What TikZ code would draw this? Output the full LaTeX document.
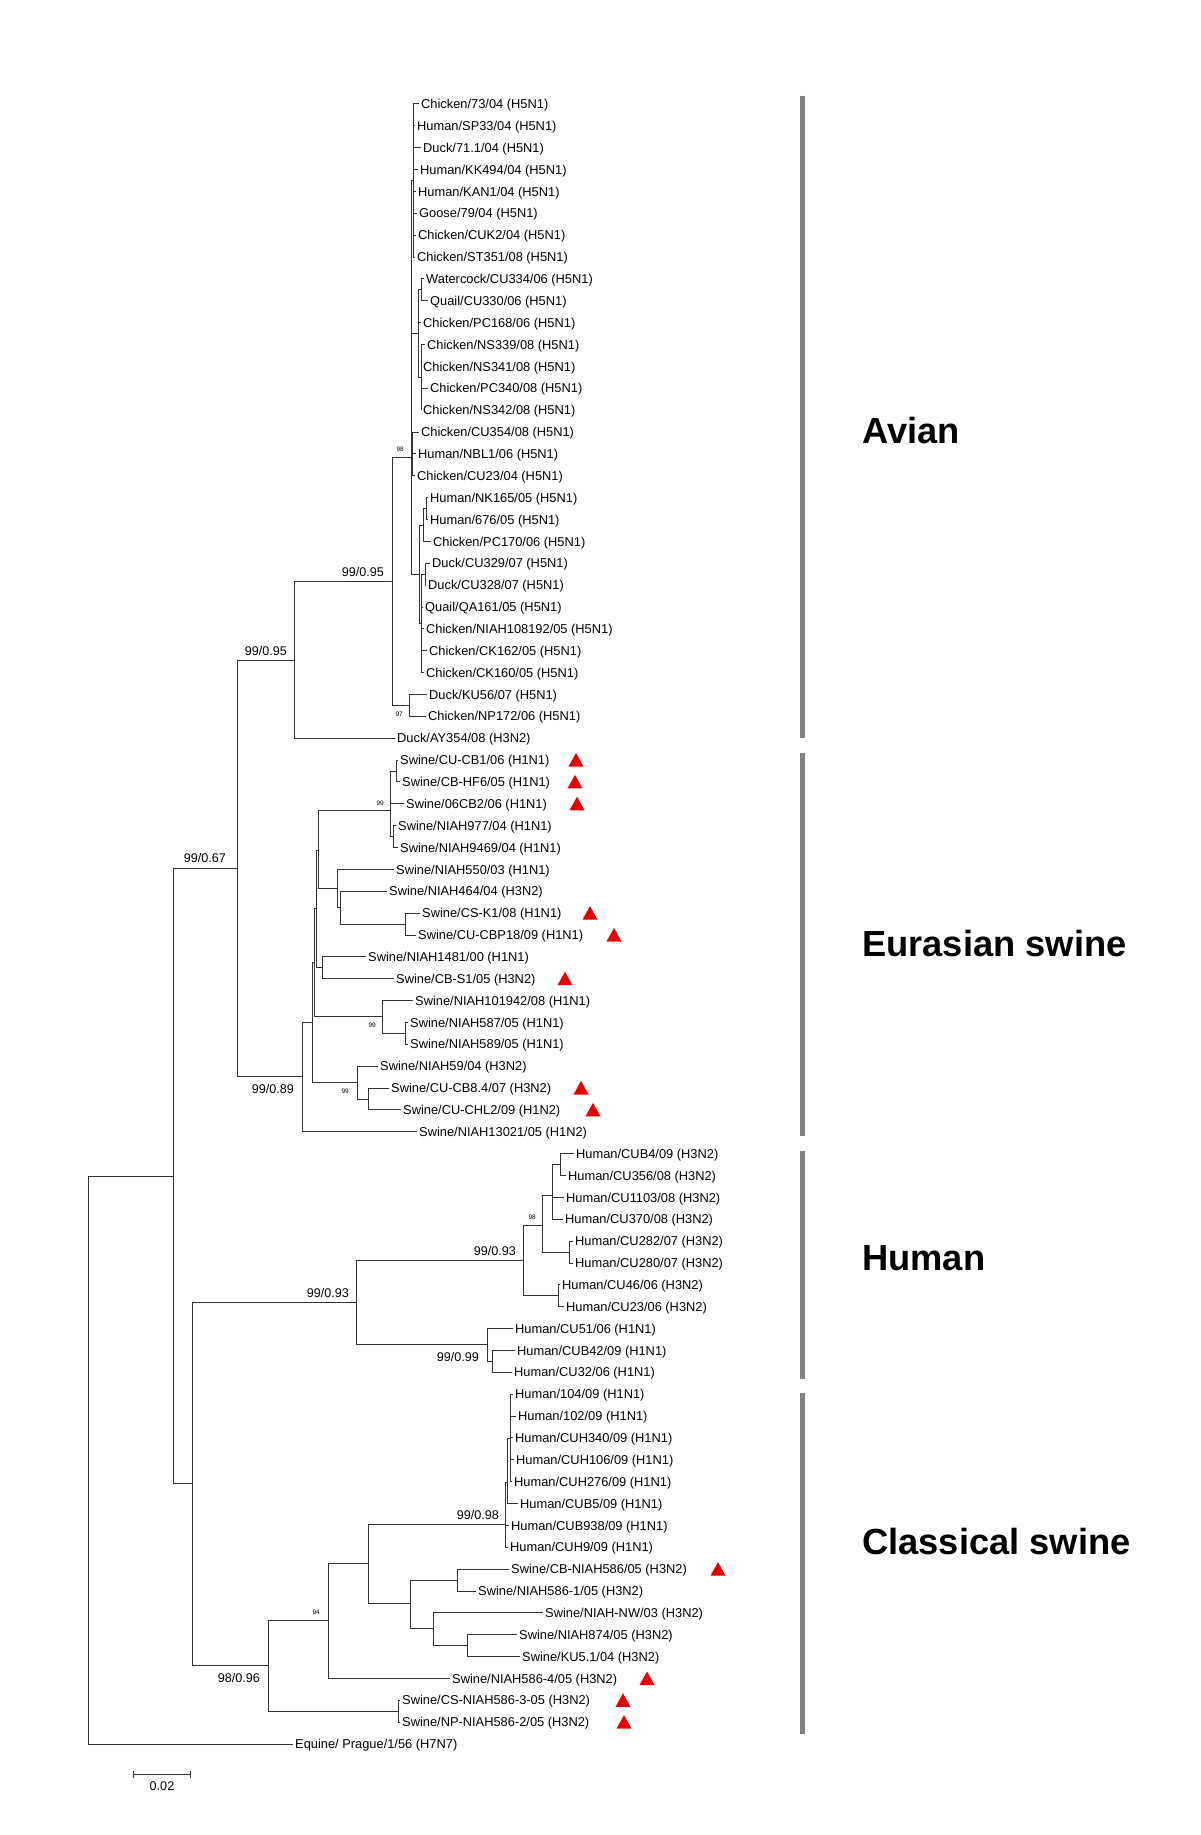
\documentclass[tikz,border=0pt]{standalone}
\usepackage{fontspec}
\setmainfont{Liberation Sans}
\definecolor{trired}{RGB}{232,0,0}
\begin{document}
\begin{tikzpicture}[x=1pt,y=-1pt,
  br/.style={line width=1pt, draw=black!80},
  leaf/.style={anchor=west, inner xsep=2pt, inner ysep=0pt, font=\fontsize{12.85}{14}\selectfont, text height=9.2pt, text depth=0pt},
  sup/.style={anchor=base east, inner sep=0pt, font=\fontsize{12.6}{14}\selectfont},
  ssup/.style={anchor=base east, inner sep=0pt, font=\fontsize{6.5}{7}\selectfont},
  clade/.style={anchor=base west, inner sep=0pt, font=\fontsize{36.3}{40}\selectfont\bfseries},
  cbar/.style={line width=5pt, draw=black!50},
  tri/.style={fill=trired}]
\fill[white] (0,0) rectangle (1200,1835);
\useasboundingbox (0,0) rectangle (1200,1835);

% ---------- leaves ----------
\foreach \n/\x/\y/\t in {
 L1/419/104.0/{Chicken/73/04 (H5N1)},
 L2/415/125.9/{Human/SP33/04 (H5N1)},
 L3/421/147.7/{Duck/71.1/04 (H5N1)},
 L4/418/169.6/{Human/KK494/04 (H5N1)},
 L5/416/191.5/{Human/KAN1/04 (H5N1)},
 L6/417/213.3/{Goose/79/04 (H5N1)},
 L7/416/235.2/{Chicken/CUK2/04 (H5N1)},
 L8/415/257.1/{Chicken/ST351/08 (H5N1)},
 L9/424/278.9/{Watercock/CU334/06 (H5N1)},
 L10/428/300.8/{Quail/CU330/06 (H5N1)},
 L11/421/322.7/{Chicken/PC168/06 (H5N1)},
 L12/425/344.5/{Chicken/NS339/08 (H5N1)},
 L13/421/366.4/{Chicken/NS341/08 (H5N1)},
 L14/428/388.3/{Chicken/PC340/08 (H5N1)},
 L15/421/410.2/{Chicken/NS342/08 (H5N1)},
 L16/419/432.0/{Chicken/CU354/08 (H5N1)},
 L17/416/453.9/{Human/NBL1/06 (H5N1)},
 L18/415/475.8/{Chicken/CU23/04 (H5N1)},
 L19/428/497.6/{Human/NK165/05 (H5N1)},
 L20/428/519.5/{Human/676/05 (H5N1)},
 L21/431/541.4/{Chicken/PC170/06 (H5N1)},
 L22/430/563.2/{Duck/CU329/07 (H5N1)},
 L23/426/585.1/{Duck/CU328/07 (H5N1)},
 L24/423/607.0/{Quail/QA161/05 (H5N1)},
 L25/424/628.8/{Chicken/NIAH108192/05 (H5N1)},
 L26/427/650.7/{Chicken/CK162/05 (H5N1)},
 L27/424/672.6/{Chicken/CK160/05 (H5N1)},
 L28/427/694.4/{Duck/KU56/07 (H5N1)},
 L29/426/716.3/{Chicken/NP172/06 (H5N1)},
 L30/395/738.2/{Duck/AY354/08 (H3N2)},
 L31/398/760.0/{Swine/CU-CB1/06 (H1N1)},
 L32/400/781.9/{Swine/CB-HF6/05 (H1N1)},
 L33/404/803.8/{Swine/06CB2/06 (H1N1)},
 L34/396/825.6/{Swine/NIAH977/04 (H1N1)},
 L35/398/847.5/{Swine/NIAH9469/04 (H1N1)},
 L36/394/869.4/{Swine/NIAH550/03 (H1N1)},
 L37/387/891.2/{Swine/NIAH464/04 (H3N2)},
 L38/420/913.1/{Swine/CS-K1/08 (H1N1)},
 L39/416/935.0/{Swine/CU-CBP18/09 (H1N1)},
 L40/366/956.8/{Swine/NIAH1481/00 (H1N1)},
 L41/394/978.7/{Swine/CB-S1/05 (H3N2)},
 L42/413/1000.6/{Swine/NIAH101942/08 (H1N1)},
 L43/408/1022.4/{Swine/NIAH587/05 (H1N1)},
 L44/408/1044.3/{Swine/NIAH589/05 (H1N1)},
 L45/378/1066.2/{Swine/NIAH59/04 (H3N2)},
 L46/389/1088.0/{Swine/CU-CB8.4/07 (H3N2)},
 L47/401/1109.9/{Swine/CU-CHL2/09 (H1N2)},
 L48/417/1131.8/{Swine/NIAH13021/05 (H1N2)},
 L49/574/1153.7/{Human/CUB4/09 (H3N2)},
 L50/566/1175.5/{Human/CU356/08 (H3N2)},
 L51/564/1197.4/{Human/CU1103/08 (H3N2)},
 L52/563/1219.3/{Human/CU370/08 (H3N2)},
 L53/573/1241.1/{Human/CU282/07 (H3N2)},
 L54/573/1263.0/{Human/CU280/07 (H3N2)},
 L55/560/1284.9/{Human/CU46/06 (H3N2)},
 L56/564/1306.7/{Human/CU23/06 (H3N2)},
 L57/513/1328.6/{Human/CU51/06 (H1N1)},
 L58/515/1350.5/{Human/CUB42/09 (H1N1)},
 L59/512/1372.3/{Human/CU32/06 (H1N1)},
 L60/513/1394.2/{Human/104/09 (H1N1)},
 L61/516/1416.1/{Human/102/09 (H1N1)},
 L62/513/1437.9/{Human/CUH340/09 (H1N1)},
 L63/514/1459.8/{Human/CUH106/09 (H1N1)},
 L64/512/1481.7/{Human/CUH276/09 (H1N1)},
 L65/518/1503.5/{Human/CUB5/09 (H1N1)},
 L66/509/1525.4/{Human/CUB938/09 (H1N1)},
 L67/508/1547.3/{Human/CUH9/09 (H1N1)},
 L68/509/1569.1/{Swine/CB-NIAH586/05 (H3N2)},
 L69/476/1591.0/{Swine/NIAH586-1/05 (H3N2)},
 L70/543/1612.9/{Swine/NIAH-NW/03 (H3N2)},
 L71/517/1634.7/{Swine/NIAH874/05 (H3N2)},
 L72/520/1656.6/{Swine/KU5.1/04 (H3N2)},
 L73/450/1678.5/{Swine/NIAH586-4/05 (H3N2)},
 L74/400/1700.3/{Swine/CS-NIAH586-3-05 (H3N2)},
 L75/400/1722.2/{Swine/NP-NIAH586-2/05 (H3N2)},
 L76/293/1744.1/{Equine/ Prague/1/56 (H7N7)}}
 \node[leaf] (\n) at (\x,\y) {\t};

% ---------- internal nodes ----------
\foreach \n/\x/\y in {
 R/88/1460, N173/173/1176, NAE/237/868, NAv/294/660, N392/392/581,
 A98/411/457, G1/413/180.5, G2/418/333, WQ/421/289.9, N4a/421/377.4,
 G3/412/454, G4/419/574, G4a/423/525, NK/426/508.5, G4b/421/623,
 CUx/425/574.2, N97/409/705.4,
 NE/302/1076, N1/312/1022, N2c/314/962, N2b/316/908, N2/318/850,
 N99/390/810, S1/396/771, S2/393/836.5, N550/337/888, N464/340/907.6,
 NCS/405/924, N3/322/967.8, N4/382/1016, N587/405/1033.4, N5/357/1082,
 N84/368/1099,
 NHC/192/1483, NH/356/1302, H1/523/1260, H2/542/1225, H3/552/1195,
 H4/560/1164.6, H5/569/1252, H6/558/1295.8, H7/487/1344, H8/492/1361.4,
 NC/268/1665, N94/328/1620, C2/368/1563, P0/505/1524, P1/507/1482,
 P2/510/1438, C3/410/1603, C6/457/1580, C4/433/1628, C5/467/1645.6,
 NCS3/398/1711}
 \coordinate (\n) at (\x,\y);

% ---------- branches ----------
\foreach \p/\c in {
 R/N173, R/L76.west, N173/NAE, N173/NHC, NAE/NAv, NAE/NE,
 NAv/N392, NAv/L30.west, N392/A98, N392/N97,
 A98/G1, A98/G2, A98/G3, A98/G4,
 G1/L1.west, G1/L2.west, G1/L3.west, G1/L4.west, G1/L5.west, G1/L6.west, G1/L7.west, G1/L8.west,
 G2/WQ, G2/L11.west, G2/N4a, WQ/L9.west, WQ/L10.west,
 N4a/L12.west, N4a/L13.west, N4a/L14.west, N4a/L15.west,
 G3/L16.west, G3/L17.west, G3/L18.west,
 G4/G4a, G4/G4b, G4a/NK, G4a/L21.west, NK/L19.west, NK/L20.west,
 G4b/CUx, G4b/L24.west, G4b/L25.west, G4b/L26.west, G4b/L27.west,
 CUx/L22.west, CUx/L23.west, N97/L28.west, N97/L29.west,
 NE/N1, NE/L48.west, N1/N2c, N1/N5, N2c/N2b, N2c/N4, N2b/N2, N2b/N3,
 N2/N99, N2/N550, N99/S1, N99/L33.west, N99/S2,
 S1/L31.west, S1/L32.west, S2/L34.west, S2/L35.west,
 N550/L36.west, N550/N464, N464/L37.west, N464/NCS, NCS/L38.west, NCS/L39.west,
 N3/L40.west, N3/L41.west, N4/L42.west, N4/N587, N587/L43.west, N587/L44.west,
 N5/L45.west, N5/N84, N84/L46.west, N84/L47.west,
 NHC/NH, NHC/NC, NH/H1, NH/H7, H1/H2, H1/H6, H2/H3, H2/H5,
 H3/H4, H3/L51.west, H3/L52.west, H4/L49.west, H4/L50.west,
 H5/L53.west, H5/L54.west, H6/L55.west, H6/L56.west,
 H7/L57.west, H7/H8, H8/L58.west, H8/L59.west,
 NC/N94, NC/NCS3, N94/C2, N94/L73.west, C2/P0, C2/C3,
 P0/P1, P0/L66.west, P0/L67.west, P1/P2, P1/L65.west,
 P2/L60.west, P2/L61.west, P2/L62.west, P2/L63.west, P2/L64.west,
 C3/C6, C3/C4, C6/L68.west, C6/L69.west, C4/L70.west, C4/C5,
 C5/L71.west, C5/L72.west, NCS3/L74.west, NCS3/L75.west}
 \draw[br] (\p) |- (\c);

% ---------- support values ----------
\node[sup] (s1) at (384,576) {99/0.95};
\node[sup] (s2) at (287,655) {99/0.95};
\node[sup] (s3) at (226,862) {99/0.67};
\node[sup] (s4) at (294,1093) {99/0.89};
\node[sup] (s5) at (349,1297) {99/0.93};
\node[sup] (s6) at (516,1255) {99/0.93};
\node[sup] (s7) at (479,1361) {99/0.99};
\node[sup] (s8) at (499,1519) {99/0.98};
\node[sup] (s9) at (260,1682) {98/0.96};
\node[ssup] (t1) at (404,451.5) {98};
\node[ssup] (t2) at (403,716) {97};
\node[ssup] (t3) at (384,805) {99};
\node[ssup] (t4) at (376,1027) {99};
\node[ssup] (t5) at (349,1093) {99};
\node[ssup] (t6) at (536,1219.5) {98};
\node[ssup] (t7) at (320,1614) {94};

% ---------- markers ----------
\foreach \x/\y in {576/760.0, 575/781.9, 577/803.8, 590/913.1, 614/935.0,
  565/978.7, 581/1088.0, 593/1109.9, 718/1569.1, 647/1678.5, 623/1700.3, 624/1722.2}
 \fill[tri] ({\x-7.5},{\y+6.5}) -- ({\x+7.5},{\y+6.5}) -- (\x,{\y-7}) -- cycle;

% ---------- clade bars and labels ----------
\draw[cbar] (802,96) -- (802,737.5);
\draw[cbar] (802,753) -- (802,1135.5);
\draw[cbar] (802,1151) -- (802,1379);
\draw[cbar] (802,1393) -- (802,1734);
\node[clade] (cAv) at (862,443) {Avian};
\node[clade] (cEu) at (862,956.5) {Eurasian swine};
\node[clade] (cHu) at (862,1270) {Human};
\node[clade] (cCl) at (862,1554.5) {Classical swine};

% ---------- scale bar ----------
\coordinate (sbA) at (133,1774);
\coordinate (sbB) at (190,1774);
\draw[br] (sbA) -- (sbB);
\draw[br] ([yshift=3.5pt]sbA) -- ([yshift=-3.5pt]sbA);
\draw[br] ([yshift=3.5pt]sbB) -- ([yshift=-3.5pt]sbB);
\node[sup, anchor=base] (sbl) at (162,1790) {0.02};
\end{tikzpicture}
\end{document}
